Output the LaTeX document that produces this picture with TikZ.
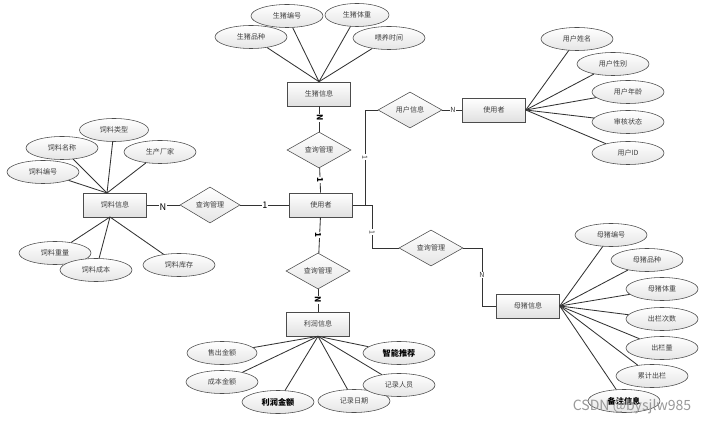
\documentclass[tikz,border=0pt]{standalone}
\usepackage{fontspec}
\setmainfont{Noto Sans CJK SC}
\usepackage{tikz}
\usetikzlibrary{shapes,shapes.geometric}

\tikzset{
  ent/.style={draw=black!70, rectangle, minimum width=1.575cm, minimum height=0.6cm,
    inner sep=0pt, top color=white, bottom color=black!12, text=black!75},
  attr/.style={draw=black!70, ellipse, minimum width=1.8cm, minimum height=0.575cm,
    inner sep=0pt, top color=white, bottom color=black!10, text=black!75},
  rel/.style={draw=black!70, diamond, minimum width=1.6cm, minimum height=0.9cm,
    inner sep=0pt, top color=white, bottom color=black!10, text=black!75},
  strong/.style={text=black, font=\fontsize{5.8}{7}\selectfont\bfseries},
  card/.style={fill=white, inner sep=0.4pt, text=black!80},
  link/.style={draw=black!80, line width=0.6pt}
}

\begin{document}
\begin{tikzpicture}[x=0.025cm, y=-0.025cm, font=\fontsize{5}{6}\selectfont]
\useasboundingbox (0,0) rectangle (708,425);

% entities and relations
\node[ent] (pig) at (319,94) {生猪信息};
\node[rel] (q1) at (319,150) {查询管理};
\node[ent] (user) at (321,205) {使用者};
\node[rel] (q2) at (318,271) {查询管理};
\node[ent] (profit) at (318,324) {利润信息};
\node[ent] (feed) at (115,205) {饲料信息};
\node[rel, minimum width=1.5cm] (q3) at (210,205) {查询管理};
\node[rel] (q4) at (410,110) {用户信息};
\node[ent] (user2) at (494,110) {使用者};
\node[rel] (q5) at (431,248) {查询管理};
\node[ent] (sow) at (528,306) {母猪信息};

% pig attributes
\node[attr] (pa) at (251,37) {生猪品种};
\node[attr] (pb) at (287,16) {生猪编号};
\node[attr, minimum width=1.6cm] (pc) at (357,15) {生猪体重};
\node[attr] (pd) at (389,38) {喂养时间};
\foreach \n in {pa,pb,pc,pd}
  \path[link] (pig.north) -- (\n);

% feed attributes
\node[attr, minimum width=1.725cm] (fa) at (114,130) {饲料类型};
\node[attr] (fb) at (62,148) {饲料名称};
\node[attr] (fc) at (160,152) {生产厂家};
\node[attr] (fd) at (43,172) {饲料编号};
\node[attr] (fe) at (55,253) {饲料重量};
\node[attr] (ff) at (96,270) {饲料成本};
\node[attr] (fg) at (179,265) {饲料库存};
\coordinate (ftop) at (107,193);
\coordinate (fbot) at (110,217);
\foreach \n in {fa,fb,fc,fd}
  \path[link] (ftop) -- (\n);
\foreach \n in {fe,ff,fg}
  \path[link] (fbot) -- (\n);

% user attributes
\node[attr] (ua) at (577,39) {用户姓名};
\node[attr] (ub) at (613,64) {用户性别};
\node[attr] (uc) at (628,92) {用户年龄};
\node[attr] (ud) at (628,122) {审核状态};
\node[attr] (ue) at (628,153) {用户ID};
\foreach \n in {ua,ub,uc,ud,ue}
  \path[link] (user2.east) -- (\n);

% sow attributes
\node[attr] (sa) at (611,235) {母猪编号};
\node[attr] (sb) at (647,260) {母猪品种};
\node[attr] (sc) at (662,289) {母猪体重};
\node[attr] (sd) at (662,319) {出栏次数};
\node[attr] (se) at (662,348) {出栏量};
\node[attr] (sf) at (652,376) {累计出栏};
\node[attr, strong] (sg) at (624,401) {备注信息};
\foreach \n in {sa,sb,sc,sd,se,sf,sg}
  \path[link] (sow.east) -- (\n);

% profit attributes
\node[attr, minimum width=1.75cm] (ra) at (222,353) {售出金额};
\node[attr] (rb) at (222,382) {成本金额};
\node[attr, strong] (rc) at (278,402) {利润金额};
\node[attr] (rd) at (354,401) {记录日期};
\node[attr] (re) at (399,385) {记录人员};
\node[attr, strong] (rf) at (399,353) {智能推荐};
\foreach \n in {ra,rb,rc,rd,re,rf}
  \path[link] (profit.south) -- (\n);

% relationship connectors
\path[link] (pig) -- (q1);
\path[link] (q1) -- (user);
\path[link] (user) -- (q2);
\path[link] (q2) -- (profit);
\path[link] (feed) -- (q3);
\path[link] (q3) -- (user);
\coordinate (c1) at (365,205);
\coordinate (c2) at (372,205);
\coordinate (c3) at (482,248);
\path[link] (user.east) -- (c1) |- (q4);
\path[link] (q4) -- (user2);
\path[link] (user.east) -- (c2) |- (q5);
\path[link] (q5) -- (c3) |- (sow);

% cardinalities
\node[card, rotate=-90, text=black, font=\fontsize{5.8}{7}\selectfont\bfseries] (k1) at (320,118) {N};
\node[card, rotate=-90, text=black, font=\fontsize{5.8}{7}\selectfont\bfseries] (k2) at (320,180) {1};
\node[card, rotate=-90, text=black, font=\fontsize{5.8}{7}\selectfont\bfseries] (k3) at (318,235) {1};
\node[card, rotate=-90, text=black, font=\fontsize{5.8}{7}\selectfont\bfseries] (k4) at (318,300) {N};
\node[card, text=black, font=\fontsize{6.5}{7}\selectfont] (k5) at (163,207) {N};
\node[card, text=black, font=\fontsize{6.5}{7}\selectfont] (k6) at (265,205) {1};
\node[card, rotate=-90] (k7) at (365,157) {1};
\node[card] (k8) at (453,110) {N};
\node[card, rotate=-90] (k9) at (372,232) {1};
\node[card] (k10) at (482,275) {N};

\node[text=black!40, font=\fontsize{10}{12}\selectfont] (wm) at (632,407) {CSDN @bysjlw985};

\end{tikzpicture}
\end{document}
